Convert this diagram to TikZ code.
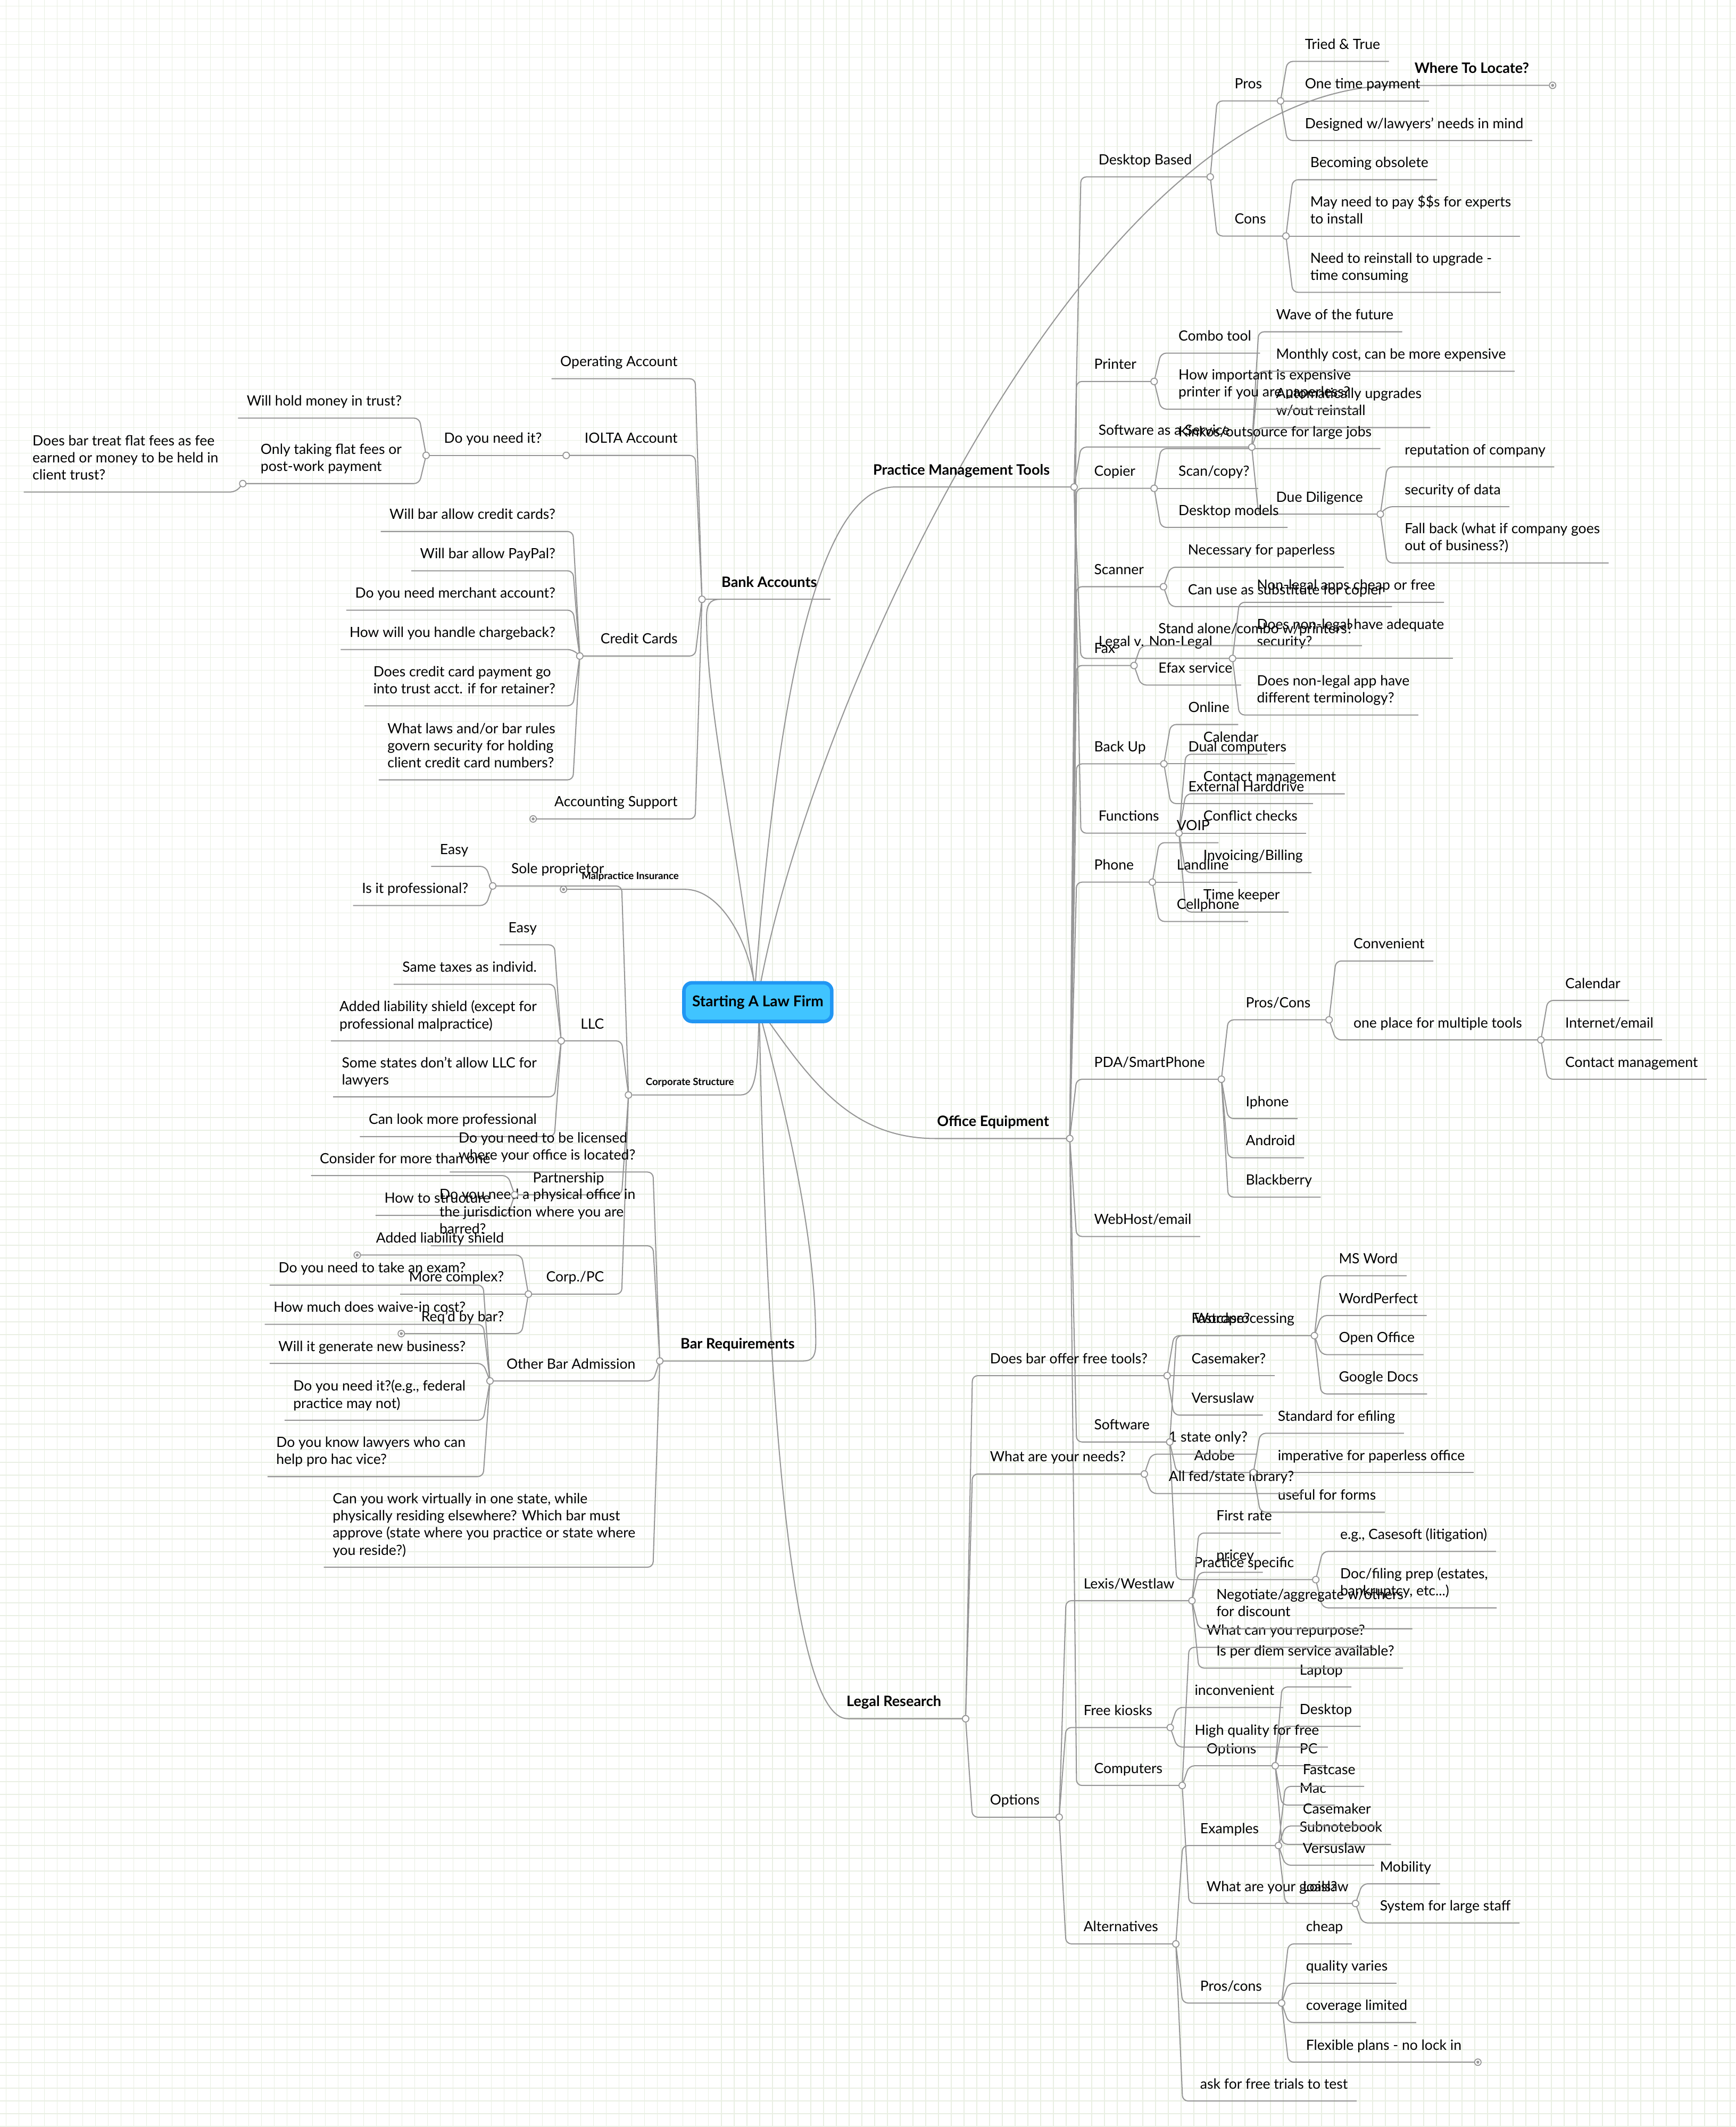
\documentclass[tikz,border=0pt]{standalone}
\usepackage{fontspec}
\setmainfont{Lato}
\usetikzlibrary{calc}
\definecolor{lncol}{RGB}{150,150,150}
\definecolor{gridcol}{RGB}{233,239,227}
\definecolor{rootfill}{RGB}{64,196,255}
\definecolor{rootdraw}{RGB}{33,150,243}
\pgfdeclarelayer{bg}\pgfdeclarelayer{fg}\pgfsetlayers{bg,main,fg}
\newcommand\mystrut{\rule[-3pt]{0pt}{3pt}}
\tikzset{
 ln/.style={draw=lncol,line width=0.8pt},
 tx/.style={inner sep=0pt,outer sep=0pt,align=left,font=\fontsize{10.4}{12.6}\selectfont},
 btx/.style={inner sep=0pt,outer sep=0pt,align=left,font=\fontsize{10.6}{12.6}\selectfont\bfseries},
 sbtx/.style={inner sep=0pt,outer sep=0pt,font=\fontsize{7.3}{9}\selectfont\bfseries},
 jc/.style={circle,draw=lncol,fill=white,line width=0.7pt,minimum size=4.8pt,inner sep=0pt},
 rootbox/.style={draw=rootdraw,line width=2.6pt,fill=rootfill,rounded corners=6pt,minimum width=109pt,minimum height=28.5pt,inner sep=0pt,font=\fontsize{11}{13}\selectfont\bfseries}
}
% right leaf: name, jx, jy, cy, text
\newcommand\rleaf[5]{%
 \node[tx,anchor=south west] (#1) at ({#2+18},{#4-6}) {#5\mystrut};
 \draw[ln,rounded corners=4pt] (#2,#3) -- ({#2+5},#4) -- (#1.east |- 0,#4) -- ++(6.5,0);}
% right inner: name, jx, jy, cy, endx, text
\newcommand\rinner[6]{%
 \node[tx,anchor=south west] (#1) at ({#2+18},{#4-6}) {#6\mystrut};
 \draw[ln,rounded corners=4pt] (#2,#3) -- ({#2+5},#4) -- (#5,#4);}
\newcommand\lleaf[5]{%
 \node[tx,anchor=south east] (#1) at ({#2-18},{#4-6}) {#5\mystrut};
 \draw[ln,rounded corners=4pt] (#2,#3) -- ({#2-5},#4) -- (#1.west |- 0,#4) -- ++(-6.5,0);}
\newcommand\linner[6]{%
 \node[tx,anchor=south east] (#1) at ({#2-18},{#4-6}) {#6\mystrut};
 \draw[ln,rounded corners=4pt] (#2,#3) -- ({#2-5},#4) -- (#5,#4);}
\newcommand\junc[3]{\begin{pgfonlayer}{fg}\node[jc] (#1) at (#2,#3) {};\end{pgfonlayer}}
\newcommand\tipmark[3]{\begin{pgfonlayer}{fg}\node[jc] (#1) at (#2,#3) {};\fill[lncol] (#1.center) circle (1.1pt);\end{pgfonlayer}}
\begin{document}
\begin{tikzpicture}[x=1pt,y=-1pt]
\useasboundingbox (0,0) rectangle (1279.7,1568);
\begin{pgfonlayer}{bg}
\fill[white] (0,0) rectangle (1279.7,1568);
\foreach \i in {0,...,136} \draw[gridcol,line width=0.4pt] ({4.7+9.415*\i},0) -- ({4.7+9.415*\i},1568);
\foreach \i in {0,...,166} \draw[gridcol,line width=0.4pt] (0,{4.7+9.415*\i}) -- (1279.7,{4.7+9.415*\i});
\end{pgfonlayer}

% root
\begin{pgfonlayer}{fg}
\node[rootbox] (root) at (558.8,738.75) {Starting A Law Firm};
\end{pgfonlayer}

% ===== Where To Locate? =====
\node[btx,anchor=south west] (wtl) at (1043,56.9) {Where To Locate?\mystrut};
\tipmark{wtlend}{1144.8}{62.9}
\draw[ln] (561,724) .. controls (600,520) and (800,63) .. (1030,63) -- (wtlend);

% ===== Practice Management Tools =====
\node[btx,anchor=south east] (pmt) at (774,353) {Practice Management Tools\mystrut};
\junc{pmtj}{792}{359}
\draw[ln] (557,724) .. controls (570,560) and (595,359) .. (660,359) -- (pmtj);
\rinner{db}{792}{359}{130.4}{892.4}{Desktop Based}\junc{dbj}{892.4}{130.4}
\rinner{pros}{892.4}{130.4}{74.4}{944.2}{Pros}\junc{prosj}{944.2}{74.4}
\rleaf{t1}{944.2}{74.4}{45.3}{Tried \& True}
\rleaf{t2}{944.2}{74.4}{74.4}{One time payment}
\rleaf{t3}{944.2}{74.4}{103.6}{Designed w/lawyers' needs in mind}
\rinner{cons}{892.4}{130.4}{174}{948.2}{Cons}\junc{consj}{948.2}{174}
\rleaf{c1}{948.2}{174}{132.5}{Becoming obsolete}
\rleaf{c2}{948.2}{174}{174}{May need to pay \$\$s for experts\\to install}
\rleaf{c3}{948.2}{174}{215.5}{Need to reinstall to upgrade -\\time consuming}
\rinner{saas}{792}{359}{329.6}{923}{Software as a Service}\junc{saasj}{923}{329.6}
\rleaf{s1}{923}{329.6}{244.6}{Wave of the future}
\rleaf{s2}{923}{329.6}{273.7}{Monthly cost, can be more expensive}
\rleaf{s3}{923}{329.6}{315.2}{Automatically upgrades\\w/out reinstall}
\rinner{dd}{923}{329.6}{379}{1017.8}{Due Diligence}\junc{ddj}{1017.8}{379}
\rleaf{d1}{1017.8}{379}{344.2}{reputation of company}
\rleaf{d2}{1017.8}{379}{373.5}{security of data}
\rleaf{d3}{1017.8}{379}{415}{Fall back (what if company goes\\out of business?)}
\rinner{lvn}{792}{359}{485.4}{908.8}{Legal v. Non-Legal}\junc{lvnj}{908.8}{485.4}
\rleaf{l1}{908.8}{485.4}{444}{Non-legal apps cheap or free}
\rleaf{l2}{908.8}{485.4}{485.4}{Does non-legal have adequate\\security?}
\rleaf{l3}{908.8}{485.4}{527.1}{Does non-legal app have\\different terminology?}
\rinner{fn}{792}{359}{614.2}{869.3}{Functions}\junc{fnj}{869.3}{614.2}
\rleaf{f1}{869.3}{614.2}{556}{Calendar}
\rleaf{f2}{869.3}{614.2}{585.2}{Contact management}
\rleaf{f3}{869.3}{614.2}{614.2}{Conflict checks}
\rleaf{f4}{869.3}{614.2}{643.3}{Invoicing/Billing}
\rleaf{f5}{869.3}{614.2}{672.3}{Time keeper}

% ===== Office Equipment =====
\node[btx,anchor=south east] (oe) at (773.5,833.3) {Office Equipment\mystrut};
\junc{oej}{788.8}{839.3}
\draw[ln] (566,752) .. controls (600,800) and (630,839.3) .. (690,839.3) -- (oej);
\rinner{pr}{788.8}{839.3}{281.2}{851}{Printer}\junc{prj}{851}{281.2}
\rleaf{p1}{851}{281.2}{260.3}{Combo tool}
\rleaf{p2}{851}{281.2}{301.6}{How important is expensive\\printer if you are paperless?}
\rinner{co}{788.8}{839.3}{360}{851}{Copier}\junc{coj}{851}{360}
\rleaf{k1}{851}{360}{330.7}{Kinkos/outsource for large jobs}
\rleaf{k2}{851}{360}{360}{Scan/copy?}
\rleaf{k3}{851}{360}{388.8}{Desktop models}
\rinner{sc}{788.8}{839.3}{432.5}{857.9}{Scanner}\junc{scj}{857.9}{432.5}
\rleaf{n1}{857.9}{432.5}{418.1}{Necessary for paperless}
\rleaf{n2}{857.9}{432.5}{447.2}{Can use as substitute for copier}
\rinner{fax}{788.8}{839.3}{490.6}{836.2}{Fax}\junc{faxj}{836.2}{490.6}
\rleaf{x1}{836.2}{490.6}{476}{Stand alone/combo w/printers?}
\rleaf{x2}{836.2}{490.6}{505}{Efax service}
\rinner{bu}{788.8}{839.3}{563.1}{858.2}{Back Up}\junc{buj}{858.2}{563.1}
\rleaf{b1}{858.2}{563.1}{534.1}{Online}
\rleaf{b2}{858.2}{563.1}{563.1}{Dual computers}
\rleaf{b3}{858.2}{563.1}{592.4}{External Harddrive}
\rinner{ph}{788.8}{839.3}{650.3}{849.7}{Phone}\junc{phj}{849.7}{650.3}
\rleaf{h1}{849.7}{650.3}{621.2}{VOIP}
\rleaf{h2}{849.7}{650.3}{650.3}{Landline}
\rleaf{h3}{849.7}{650.3}{679.3}{Cellphone}
\rinner{pda}{788.8}{839.3}{795.6}{900.6}{PDA/SmartPhone}\junc{pdaj}{900.6}{795.6}
\rinner{pcs}{900.6}{795.6}{751.8}{980}{Pros/Cons}\junc{pcsj}{980}{751.8}
\rleaf{pc1}{980}{751.8}{708.4}{Convenient}
\rinner{pc2}{980}{751.8}{766.6}{1136.2}{one place for multiple tools}\junc{pc2j}{1136.2}{766.6}
\rleaf{o1}{1136.2}{766.6}{737.5}{Calendar}
\rleaf{o2}{1136.2}{766.6}{766.6}{Internet/email}
\rleaf{o3}{1136.2}{766.6}{795.6}{Contact management}
\rleaf{i1}{900.6}{795.6}{824.6}{Iphone}
\rleaf{i2}{900.6}{795.6}{853.5}{Android}
\rleaf{i3}{900.6}{795.6}{882.5}{Blackberry}
\rleaf{wh}{788.8}{839.3}{911.5}{WebHost/email}
\rinner{sw}{788.8}{839.3}{1063}{862.5}{Software}\junc{swj}{862.5}{1063}
\rinner{wp}{862.5}{1063}{984.6}{969.2}{Wordprocessing}\junc{wpj}{969.2}{984.6}
\rleaf{w1}{969.2}{984.6}{940.5}{MS Word}
\rleaf{w2}{969.2}{984.6}{969.8}{WordPerfect}
\rleaf{w3}{969.2}{984.6}{998.6}{Open Office}
\rleaf{w4}{969.2}{984.6}{1027.6}{Google Docs}
\rinner{ad}{862.5}{1063}{1085.5}{924.2}{Adobe}\junc{adj}{924.2}{1085.5}
\rleaf{a1}{924.2}{1085.5}{1056.6}{Standard for efiling}
\rleaf{a2}{924.2}{1085.5}{1085.5}{imperative for paperless office}
\rleaf{a3}{924.2}{1085.5}{1114.7}{useful for forms}
\rinner{ps}{862.5}{1063}{1164.5}{970.2}{Practice specific}\junc{psj}{970.2}{1164.5}
\rleaf{q1}{970.2}{1164.5}{1143.7}{e.g., Casesoft (litigation)}
\rleaf{q2}{970.2}{1164.5}{1185.3}{Doc/filing prep (estates,\\bankruptcy, etc...)}
\rinner{cp}{788.8}{839.3}{1316.2}{871.7}{Computers}\junc{cpj}{871.7}{1316.2}
\rleaf{r1}{871.7}{1316.2}{1214.4}{What can you repurpose?}
\rinner{cop}{871.7}{1316.2}{1301.7}{940.3}{Options}\junc{copj}{940.3}{1301.7}
\rleaf{e1}{940.3}{1301.7}{1243.6}{Laptop}
\rleaf{e2}{940.3}{1301.7}{1272.6}{Desktop}
\rleaf{e3}{940.3}{1301.7}{1301.7}{PC}
\rleaf{e4}{940.3}{1301.7}{1330.7}{Mac}
\rleaf{e5}{940.3}{1301.7}{1359.6}{Subnotebook}
\rinner{goal}{871.7}{1316.2}{1403.2}{999.5}{What are your goals?}\junc{goalj}{999.5}{1403.2}
\rleaf{g1}{999.5}{1403.2}{1388.7}{Mobility}
\rleaf{g2}{999.5}{1403.2}{1417.6}{System for large staff}

% ===== Legal Research =====
\node[btx,anchor=south east] (lr) at (694,1261) {Legal Research\mystrut};
\junc{lrj}{712}{1267}
\draw[ln] (560,754) .. controls (566,1050) and (585,1267) .. (625,1267) -- (lrj);
\rinner{dbo}{712}{1267}{1014.1}{860.6}{Does bar offer free tools?}\junc{dboj}{860.6}{1014.1}
\rleaf{u1}{860.6}{1014.1}{984.6}{Fastcase?}
\rleaf{u2}{860.6}{1014.1}{1014.1}{Casemaker?}
\rleaf{u3}{860.6}{1014.1}{1043.2}{Versuslaw}
\rinner{wyn}{712}{1267}{1086.6}{843.8}{What are your needs?}\junc{wynj}{843.8}{1086.6}
\rleaf{v1}{843.8}{1086.6}{1072}{1 state only?}
\rleaf{v2}{843.8}{1086.6}{1101}{All fed/state library?}
\rinner{opt}{712}{1267}{1339.6}{781}{Options}\junc{optj}{781}{1339.6}
\rinner{lw}{781}{1339.6}{1180}{878.9}{Lexis/Westlaw}\junc{lwj}{878.9}{1180}
\rleaf{y1}{878.9}{1180}{1130.1}{First rate}
\rleaf{y2}{878.9}{1180}{1159.1}{pricey}
\rleaf{y3}{878.9}{1180}{1200.7}{Negotiate/aggregate w/others\\for discount}
\rleaf{y4}{878.9}{1180}{1229.7}{Is per diem service available?}
\rinner{fk}{781}{1339.6}{1273.5}{862.9}{Free kiosks}\junc{fkj}{862.9}{1273.5}
\rleaf{z1}{862.9}{1273.5}{1258.7}{inconvenient}
\rleaf{z2}{862.9}{1273.5}{1287.9}{High quality for free}
\rinner{alt}{781}{1339.6}{1433}{867}{Alternatives}\junc{altj}{867}{1433}
\rinner{ex}{867}{1433}{1360.5}{942.7}{Examples}\junc{exj}{942.7}{1360.5}
\rleaf{m1}{942.7}{1360.5}{1316.9}{Fastcase}
\rleaf{m2}{942.7}{1360.5}{1346.1}{Casemaker}
\rleaf{m3}{942.7}{1360.5}{1375}{Versuslaw}
\rleaf{m4}{942.7}{1360.5}{1403.3}{Loislaw}
\rinner{pcn}{867}{1433}{1476.6}{945}{Pros/cons}\junc{pcnj}{945}{1476.6}
\rleaf{j1}{945}{1476.6}{1433}{cheap}
\rleaf{j2}{945}{1476.6}{1462}{quality varies}
\rleaf{j3}{945}{1476.6}{1491}{coverage limited}
\rinner{j4}{945}{1476.6}{1520.2}{1089.7}{Flexible plans - no lock in}\tipmark{j4e}{1089.7}{1520.2}
\rleaf{ask}{867}{1433}{1548.8}{ask for free trials to test}

% ===== Bank Accounts =====
\node[btx,anchor=south west] (ba) at (532,435.8) {Bank Accounts\mystrut};
\junc{baj}{517.6}{441.8}
\draw[ln] (baj) -- (612.5,441.8);
\draw[ln] (556,724) .. controls (541,610) and (521,520) .. (521,455) .. controls (521,446) and (523,441.8) .. (531,441.8);
\lleaf{oa}{517.6}{441.8}{279.2}{Operating Account}
\linner{iol}{517.6}{441.8}{335.7}{417.5}{IOLTA Account}\junc{iolj}{417.5}{335.7}
\linner{dyn}{417.5}{335.7}{335.7}{314.2}{Do you need it?}\junc{dynj}{314.2}{335.7}
\lleaf{hm}{314.2}{335.7}{308.2}{Will hold money in trust?}
\linner{otf}{314.2}{335.7}{356.5}{179}{Only taking flat fees or\\post-work payment}\junc{otfj}{179}{356.5}
\lleaf{dbt}{179}{356.5}{362.7}{Does bar treat flat fees as fee\\earned or money to be held in\\client trust?}
\linner{cc}{517.6}{441.8}{483.6}{427.5}{Credit Cards}\junc{ccj}{427.5}{483.6}
\lleaf{cc1}{427.5}{483.6}{391.8}{Will bar allow credit cards?}
\lleaf{cc2}{427.5}{483.6}{420.8}{Will bar allow PayPal?}
\lleaf{cc3}{427.5}{483.6}{449.8}{Do you need merchant account?}
\lleaf{cc4}{427.5}{483.6}{478.8}{How will you handle chargeback?}
\lleaf{cc5}{427.5}{483.6}{520.3}{Does credit card payment go\\into trust acct. if for retainer?}
\lleaf{cc6}{427.5}{483.6}{574.9}{What laws and/or bar rules\\govern security for holding\\client credit card numbers?}
\linner{acs}{517.6}{441.8}{603.7}{393.1}{Accounting Support}\tipmark{acse}{393.1}{603.7}

% ===== Malpractice Insurance =====
\node[sbtx,anchor=base west] (mi) at (428.9,648.4) {Malpractice Insurance};
\tipmark{mie}{415.5}{655.6}
\draw[ln] (556,724) .. controls (550,690) and (530,655.6) .. (505,655.6) -- (mie);

% ===== Corporate Structure =====
\node[sbtx,anchor=base west] (cs) at (476.2,800) {Corporate Structure};
\junc{csj}{463.4}{807.2}
\draw[ln] (559.5,754) .. controls (558.5,790) and (557.5,807.2) .. (546,807.2) -- (csj);
\linner{sp}{463.4}{807.2}{653.1}{363.3}{Sole proprietor}\junc{spj}{363.3}{653.1}
\lleaf{sp1}{363.3}{653.1}{638.7}{Easy}
\lleaf{sp2}{363.3}{653.1}{667.5}{Is it professional?}
\linner{llc}{463.4}{807.2}{767.3}{413.8}{LLC}\junc{llcj}{413.8}{767.3}
\lleaf{ll1}{413.8}{767.3}{696.5}{Easy}
\lleaf{ll2}{413.8}{767.3}{725.6}{Same taxes as individ.}
\lleaf{ll3}{413.8}{767.3}{767.3}{Added liability shield (except for\\professional malpractice)}
\lleaf{ll4}{413.8}{767.3}{808.6}{Some states don't allow LLC for\\lawyers}
\lleaf{ll5}{413.8}{767.3}{837.9}{Can look more professional}
\linner{pt}{463.4}{807.2}{880.8}{379.5}{Partnership}\junc{ptj}{379.5}{880.8}
\lleaf{pt1}{379.5}{880.8}{866.6}{Consider for more than one}
\lleaf{pt2}{379.5}{880.8}{895.9}{How to structure}
\linner{cpc}{463.4}{807.2}{954}{389.6}{Corp./PC}\junc{cpcj}{389.6}{954}
\linner{cpc1}{389.6}{954}{925.2}{263.4}{Added liability shield}\tipmark{cpc1e}{263.4}{925.2}
\lleaf{cpc2}{389.6}{954}{954}{More complex?}
\linner{cpc3}{389.6}{954}{983.1}{295.9}{Req'd by bar?}\tipmark{cpc3e}{295.9}{983.1}

% ===== Bar Requirements =====
\node[btx,anchor=south west] (br) at (501.8,997.3) {Bar Requirements\mystrut};
\junc{brj}{486.5}{1003.3}
\draw[ln] (562,754) .. controls (590,860) and (601.5,930) .. (601.5,990) .. controls (601.5,1000) and (599,1003.3) .. (592,1003.3) -- (brj);
\lleaf{br1}{486.5}{1003.3}{864}{Do you need to be licensed\\where your office is located?}
\lleaf{br2}{486.5}{1003.3}{918.4}{Do you need a physical office in\\the jurisdiction where you are\\barred?}
\linner{oba}{486.5}{1003.3}{1018}{361.3}{Other Bar Admission}\junc{obaj}{361.3}{1018}
\lleaf{ob1}{361.3}{1018}{947.3}{Do you need to take an exam?}
\lleaf{ob2}{361.3}{1018}{976.3}{How much does waive-in cost?}
\lleaf{ob3}{361.3}{1018}{1005.1}{Will it generate new business?}
\lleaf{ob4}{361.3}{1018}{1047}{Do you need it?(e.g., federal\\practice may not)}
\lleaf{ob5}{361.3}{1018}{1088.5}{Do you know lawyers who can\\help pro hac vice?}
\lleaf{br4}{486.5}{1003.3}{1155.3}{Can you work virtually in one state, while\\physically residing elsewhere? Which bar must\\approve (state where you practice or state where\\you reside?)}
\end{tikzpicture}
\end{document}
